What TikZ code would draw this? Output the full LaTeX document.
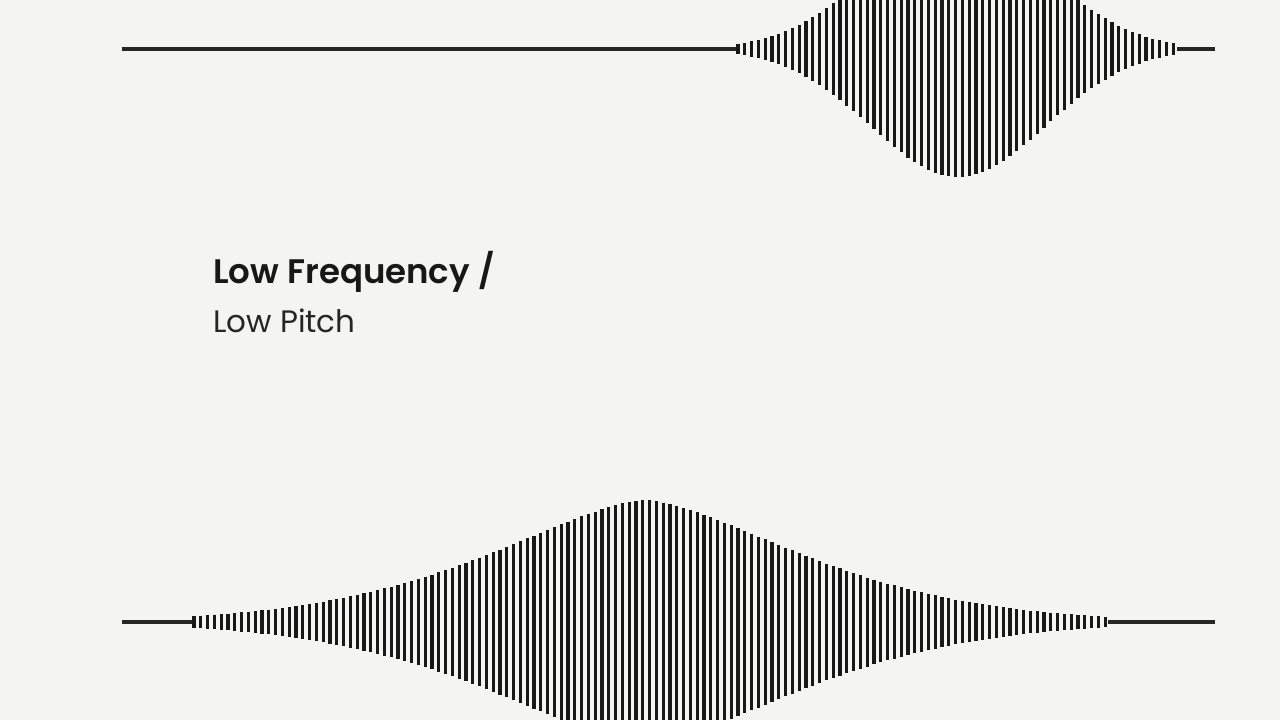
\documentclass[tikz,border=0pt]{standalone}
\usepackage{fontspec}
\setmainfont{Poppins}[BoldFont={Poppins SemiBold}]
\definecolor{paper}{RGB}{244,244,241}
\definecolor{ink}{RGB}{24,24,24}
\definecolor{lineink}{RGB}{38,38,38}
\tikzset{
  wavebar/.style={draw=ink, line width=3.1pt},
  restline/.style={draw=lineink, line width=3.2pt},
  labeltext/.style={inner sep=0pt, anchor=base west}
}
\begin{document}
\begin{tikzpicture}[x=1pt,y=-1pt]
  % canvas, 1 unit = 1 pixel, y downwards
  \fill[paper] (0,0) rectangle (1280,720);
  \useasboundingbox (0,0) rectangle (1280,720);
  \clip (0,0) rectangle (1280,720);

  % parameters
  \def\dx{6.8}
  \def\yTop{49}
  \def\yBot{622}

  % flat ends of the upper signal
  \coordinate (topA) at (122,\yTop);
  \coordinate (topB) at (736,\yTop);
  \coordinate (topC) at (1177,\yTop);
  \coordinate (topD) at (1215,\yTop);
  \draw[restline] (topA) -- (topB);
  \draw[restline] (topC) -- (topD);

  % upper burst: gaussian envelope, centre 958
  \foreach \i in {0,...,64} {
    \pgfmathsetmacro{\xx}{738+\i*\dx}
    \pgfmathsetmacro{\aa}{max(128*exp(-(abs(\xx-958)/123)^2),1.8)}
    \draw[wavebar] (\xx,{\yTop-\aa}) -- (\xx,{\yTop+\aa});
  }

  % flat ends of the lower signal
  \coordinate (botA) at (122,\yBot);
  \coordinate (botB) at (192,\yBot);
  \coordinate (botC) at (1108,\yBot);
  \coordinate (botD) at (1215,\yBot);
  \draw[restline] (botA) -- (botB);
  \draw[restline] (botC) -- (botD);

  % lower burst: wider envelope, centre 645
  \foreach \i in {0,...,134} {
    \pgfmathsetmacro{\xx}{194+\i*\dx}
    \pgfmathsetmacro{\aa}{max(122*exp(-(abs(\xx-645)/221+0.0001)^1.55),1.8)}
    \draw[wavebar] (\xx,{\yBot-\aa}) -- (\xx,{\yBot+\aa});
  }

  % label
  \node[labeltext, text=ink, font=\fontsize{34}{40}\selectfont\bfseries] (title) at (213,283) {Low Frequency /};
  \node[labeltext, text=lineink, font=\fontsize{31}{36}\selectfont] (subtitle) at (213,332) {Low Pitch};
\end{tikzpicture}
\end{document}
